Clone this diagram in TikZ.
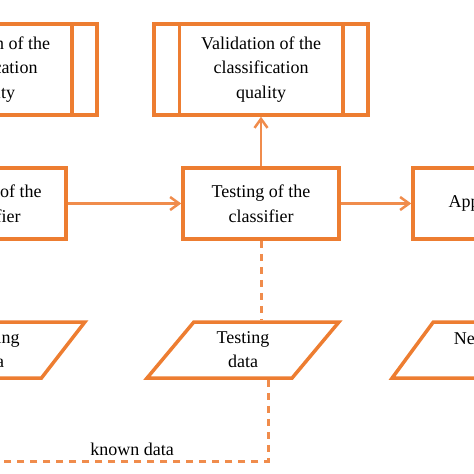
\documentclass[tikz,border=0pt]{standalone}
\usepackage{fontspec}
\setmainfont{Liberation Serif}
\usetikzlibrary{shapes.geometric,arrows.meta}
\definecolor{boxorange}{RGB}{237,125,49}
\definecolor{linkorange}{RGB}{240,140,76}

\begin{document}
\begin{tikzpicture}[x=1pt,y=-1pt]
		\tikzset{
			box/.style ={
				rectangle, %矩形节点
				minimum width =156pt, %最小宽度
				minimum height =71pt, %最小高度
				inner sep=3pt, %文字和边框的距离
				draw=boxorange, %边框颜色
				line width=3.5pt,
				align=center,
				font=\fontsize{18}{24.5}\selectfont
			},
			procbox/.style ={
				box,
				minimum width =214pt,
				minimum height =91pt
			},
			databox/.style ={
				trapezium, %平行四边形
				trapezium left angle=56,
				trapezium right angle=124,
				trapezium stretches=true,
				minimum width =192pt,
				minimum height =56pt,
				inner sep=2pt,
				draw=boxorange,
				line width=3.5pt,
				align=center,
				font=\fontsize{18}{24}\selectfont
			},
			link/.style ={
				draw=linkorange,
				line width=2.5pt,
				-{Straight Barb[length=9pt,width=13pt]}
			},
			dlink/.style ={
				draw=linkorange,
				line width=3pt,
				dash pattern=on 7pt off 6pt
			}
		}
		\useasboundingbox (0,0) rectangle (474,474);
		\clip (0,0) rectangle (474,474);
		\node[procbox] (v1) at(-10,69.5){Validation of the\\classification\\quality};
		\node[procbox] (v2) at(261,69.5){Validation of the\\classification\\quality};
		\draw[boxorange,line width=3.5pt] ([xshift=27pt]v1.north west)--([xshift=27pt]v1.south west);
		\draw[boxorange,line width=3.5pt] ([xshift=-27pt]v1.north east)--([xshift=-27pt]v1.south east);
		\draw[boxorange,line width=3.5pt] ([xshift=27pt]v2.north west)--([xshift=27pt]v2.south west);
		\draw[boxorange,line width=3.5pt] ([xshift=-27pt]v2.north east)--([xshift=-27pt]v2.south east);
		\node[box] (train) at(-12,203.5){Training of the\\classifier};
		\node[box] (test) at(261,203.5){Testing of the\\classifier};
		\node[box] (apply) at(491,203.5){Application};
		\node[databox] (trdata) at(-11,350){Training\\data};
		\node[databox] (tdata) at(243,350){Testing\\data};
		\node[databox] (ndata) at(488,350){New data\\~};
		\coordinate (kd) at(-10,461);
		\node[font=\fontsize{18}{24}\selectfont] (known) at(132,449){known data};
		\draw[link] (train)--(test);
		\draw[link] (test)--(apply);
		\draw[link] (test)--(v2);
		\draw[dlink] (test.south)--(test.south|-tdata.north);
		\draw[dlink] ([xshift=25pt]tdata.south)|-(kd);
	\end{tikzpicture}
\end{document}
